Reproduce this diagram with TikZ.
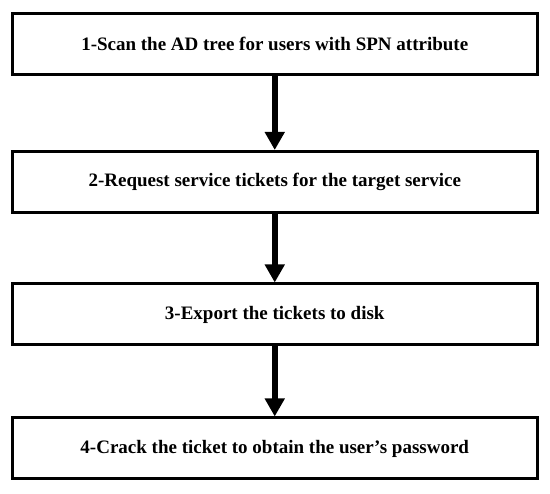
\documentclass[tikz,border=0pt]{standalone}
\usepackage{fontspec}
\setmainfont{Liberation Serif}
\usetikzlibrary{arrows.meta}
\begin{document}
\begin{tikzpicture}[x=1pt,y=1pt,
  stepbox/.style={draw, line width=3pt, minimum width=524.5pt, minimum height=61pt, inner sep=0pt,
    font=\bfseries\fontsize{19}{22}\selectfont},
  flow/.style={line width=6.5pt, -{Triangle[length=18pt,width=19pt]}}]
\useasboundingbox (0,0) rectangle (550,494);
\node[stepbox] (b1) at (274.75,450) {1-Scan the AD tree for users with SPN attribute};
\node[stepbox] (b2) at (274.75,312) {2-Request service tickets for the target service};
\node[stepbox] (b3) at (274.75,179.5) {3-Export the tickets to disk};
\node[stepbox] (b4) at (274.75,45.5) {4-Crack the ticket to obtain the user’s password};
\draw[flow] (b1.south) -- (b2.north);
\draw[flow] (b2.south) -- (b3.north);
\draw[flow] (b3.south) -- (b4.north);
\end{tikzpicture}
\end{document}
